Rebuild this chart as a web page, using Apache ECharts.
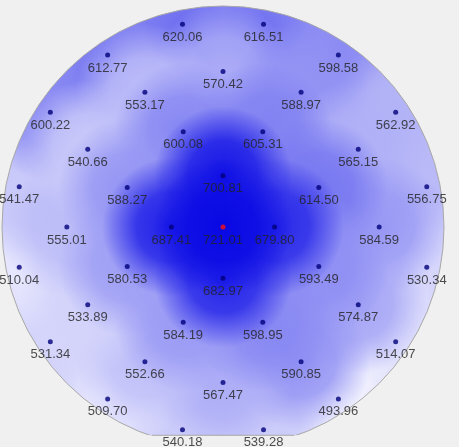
<!DOCTYPE html>
<html><head><meta charset="utf-8">
<script src="https://cdn.jsdelivr.net/npm/echarts@6/dist/echarts.min.js"></script>
<style>html,body{margin:0;padding:0;background:#f0f0f0;overflow:hidden}#c{width:459px;height:447px}</style>
</head><body><div id="c"></div>
<script>
// Site coordinates on the wafer (mm) and measured values
const siteX = [
  -27.5, 27.5, 78.3, 117.2, 138.3, 138.3, 117.2, 78.3, 27.5, -27.5, -78.3, -117.2, -138.3, -138.3, -117.2, -78.3,
  0, 53, 91.8, 106, 91.8, 53, 0, -53, -91.8, -106, -91.8, -53,
  -27, 27, 65, 65, 27, -27, -65, -65,
  0, 35, 0, -35,
  0
];
const siteY = [
  138.3, 138.3, 117.2, 78.3, 27.5, -27.5, -78.3, -117.2, -138.3, -138.3, -117.2, -78.3, -27.5, 27.5, 78.3, 117.2,
  106, 91.8, 53, 0, -53, -91.8, -106, -91.8, -53, 0, 53, 91.8,
  65, 65, 27, -27, -65, -65, -27, 27,
  35, 0, -35, 0,
  0
];
const siteValue = [
  620.06, 616.51, 598.58, 562.92, 556.75, 530.34, 514.07, 493.96, 539.28, 540.18, 509.70, 531.34, 510.04, 541.47, 600.22, 612.77,
  570.42, 588.97, 565.15, 584.59, 574.87, 590.85, 567.47, 552.66, 533.89, 555.01, 540.66, 553.17,
  600.08, 605.31, 614.50, 593.49, 598.95, 584.19, 580.53, 588.27,
  700.81, 679.80, 682.97, 687.41,
  721.01
];
const waferRadius = 150;
const flatY = -142;

const BG = '#f0f0f0';
const BASE = '#b8b8f8';
const BLOB_R = 47;

const chart = echarts.init(document.getElementById('c'), null, {renderer: 'canvas'});
const data = siteX.map((x, i) => [x, siteY[i], siteValue[i]]);
const maxIdx = siteValue.indexOf(Math.max(...siteValue));

const option = {
  backgroundColor: BG,
  animation: false,
  grid: {left: 2, top: 7, width: 442, height: 442},
  xAxis: {type: 'value', min: -150, max: 150, show: false},
  yAxis: {type: 'value', min: -150, max: 150, show: false},
  visualMap: {
    show: false, type: 'continuous', min: 494, max: 721, dimension: 2, seriesIndex: 1,
    inRange: {color: ['#f6f6ff', '#dcdcfc', '#b8b8f8', '#9090f4', '#6a6af0', '#3c3cec', '#1c1ce8', '#0808e4']}
  },
  series: [
    {
      type: 'custom', z: 1, silent: true, data: [[0, 0]],
      renderItem: (p, api) => {
        const c = api.coord([0, 0]);
        const r = api.size([waferRadius, 0])[0];
        return {type: 'circle', shape: {cx: c[0], cy: c[1], r: r}, style: {fill: BASE}};
      }
    },
    {
      type: 'custom', z: 2, silent: true, data: data,
      encode: {x: 0, y: 1},
      renderItem: (p, api) => {
        const c = api.coord([api.value(0), api.value(1)]);
        const r = api.size([BLOB_R, 0])[0];
        const col = api.visual('color');
        return {
          type: 'circle', shape: {cx: c[0], cy: c[1], r: r},
          style: {fill: {type: 'radial', x: 0.5, y: 0.5, r: 0.5, colorStops: [
            {offset: 0, color: col},
            {offset: 0.5, color: echarts.color.modifyAlpha(col, 0.8)},
            {offset: 1, color: echarts.color.modifyAlpha(col, 0)}
          ]}}
        };
      }
    },
    {
      type: 'custom', z: 3, silent: true, data: [[0, 0]],
      renderItem: (p, api) => {
        const c = api.coord([0, 0]);
        const r = api.size([waferRadius, 0])[0];
        const fy = api.coord([0, flatY])[1];
        const half = api.size([Math.sqrt(waferRadius * waferRadius - flatY * flatY), 0])[0];
        return {type: 'group', children: [
          {type: 'ring', shape: {cx: c[0], cy: c[1], r: 2000, r0: r}, style: {fill: BG}},
          {type: 'circle', shape: {cx: c[0], cy: c[1], r: r}, style: {fill: null, stroke: '#a8a8a8', lineWidth: 1}},
          {type: 'rect', shape: {x: 0, y: fy, width: 2000, height: 200}, style: {fill: BG}},
          {type: 'line', shape: {x1: c[0] - half, y1: fy, x2: c[0] + half, y2: fy}, style: {stroke: '#a8a8a8', lineWidth: 1}}
        ]};
      }
    },
    {
      type: 'scatter', z: 4, symbol: 'circle', symbolSize: 5,
      itemStyle: {color: '#00007a'},
      data: data.map((d, i) => i === maxIdx ? {value: d, itemStyle: {color: '#ff1010'}} : {value: d}),
      label: {
        show: true, position: 'bottom', distance: 4,
        formatter: (p) => p.value[2].toFixed(2),
        fontFamily: 'Liberation Sans, Arial, sans-serif', fontSize: 13, color: '#222222'
      }
    }
  ]
};
chart.setOption(option);
</script>
</body></html>
